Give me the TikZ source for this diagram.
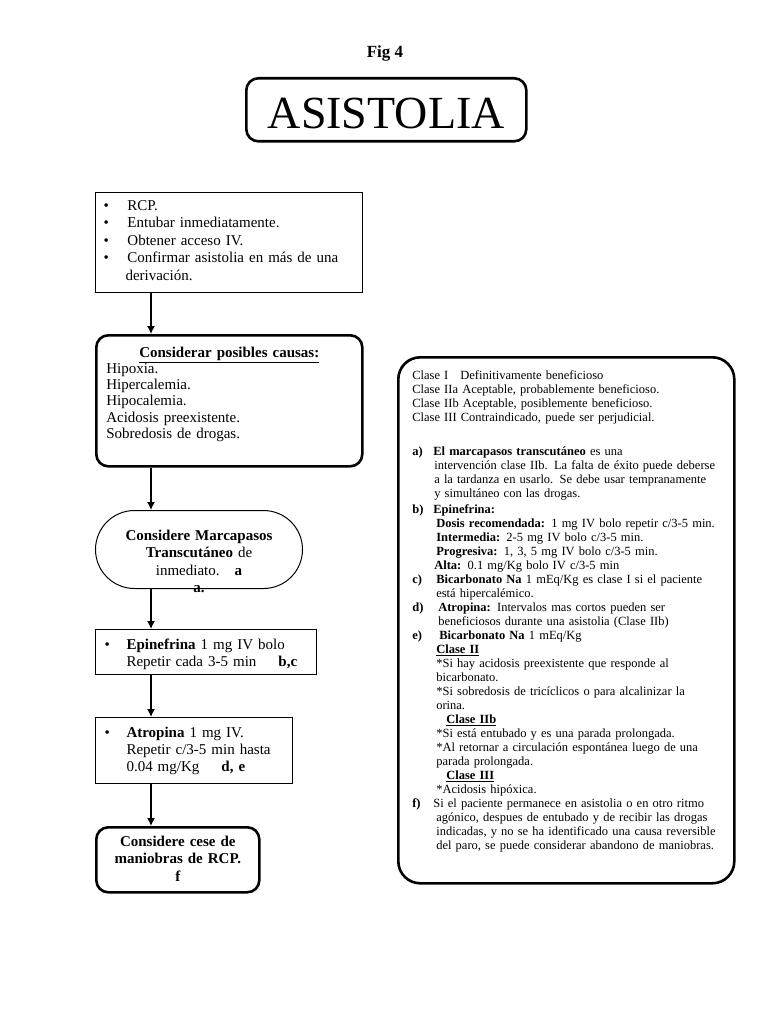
\documentclass[tikz,border=0pt]{standalone}
\usepackage{fontspec}
\setmainfont{Liberation Serif}
\usetikzlibrary{arrows.meta, positioning}
\tikzset{
  thinbox/.style={rectangle, draw, line width=1pt, inner xsep=8pt, inner ysep=0pt, align=left, font=\fontsize{15}{16}\selectfont},
  thickbox/.style={rectangle, draw, line width=2.6pt, rounded corners=12pt, inner xsep=8pt, inner ysep=0pt, align=left, font=\fontsize{15}{16}\selectfont},
  pillbox/.style={rectangle, draw, line width=1pt, rounded corners=39pt, minimum width=207pt, minimum height=78pt, inner sep=0pt, align=center, font=\fontsize{15}{17.3}\selectfont},
  notebox/.style={rectangle, draw, line width=2.6pt, rounded corners=22pt, inner xsep=14pt, inner ysep=0pt, align=left, font=\fontsize{12.5}{14}\selectfont},
  arrow/.style={-{Latex[length=8pt,width=8pt]}, line width=1.2pt}
}
\newcommand\bul[1][24pt]{\makebox[#1][l]{\textbullet}}
\newcommand\notelbl[2][21pt]{\makebox[#1][l]{\textbf{#2}}}
\newcommand\indnt[1][22pt]{\hspace*{#1}}

\begin{document}
\begin{tikzpicture}[x=1pt, y=-1pt]
\useasboundingbox (0,0) rectangle (768,1024);

% Title
\node[anchor=base, font=\bfseries\fontsize{17}{19}\selectfont] (fig) at (385,58) {Fig 4};
\node[thickbox, anchor=north west, minimum width=280pt, inner xsep=0pt, align=center, text height=50pt, text depth=13pt, font=\fontsize{46}{50}\selectfont] (title) at (245,77) {ASISTOLIA};

% First steps
\node[thinbox, anchor=north west, text width=251pt, text height=18pt, text depth=82pt, font=\fontsize{15}{17.5}\selectfont] (steps) at (95,192)
  {\bul RCP.\\ \bul Entubar inmediatamente.\\ \bul Obtener acceso IV.\\ \bul Confirmar asistolia en más de una\\ \hspace*{22pt}derivación.};

% Causes
\node[thickbox, anchor=north west, inner xsep=10pt, text width=246pt, text height=22pt, text depth=109pt, font=\fontsize{15}{16.2}\selectfont] (causes) at (95,334)
  {\makebox[\linewidth]{\textbf{\underline{Considerar posibles causas:}}}\\ Hipoxia.\\ Hipercalemia.\\ Hipocalemia.\\ Acidosis preexistente.\\ Sobredosis de drogas.};

% Pacemaker
\node[pillbox, anchor=north west, text width=207pt, text height=30pt, text depth=48pt] (pace) at (95,510)
  {\textbf{Considere Marcapasos}\\ \textbf{Transcutáneo} de\\ inmediato.\quad\textbf{a}\\ \textbf{a.}};

% Epinephrine
\node[thinbox, anchor=north west, inner xsep=9pt, text width=203pt, text height=20pt, text depth=25pt, font=\fontsize{15}{16.5}\selectfont] (epi) at (95,629)
  {\bul[22pt]\textbf{Epinefrina} 1 mg IV bolo\\ \hspace*{22pt}Repetir cada 3-5 min\hspace{22pt}\textbf{b,c}};

% Atropine
\node[thinbox, anchor=north west, inner xsep=9pt, text width=179pt, text height=20pt, text depth=46pt, font=\fontsize{15}{17}\selectfont] (atro) at (95,717)
  {\bul[22pt]\textbf{Atropina} 1 mg IV.\\ \hspace*{22pt}Repetir c/3-5 min hasta\\ \hspace*{22pt}0.04 mg/Kg\hspace{22pt}\textbf{d, e}};

% Stop
\node[thickbox, anchor=north west, align=center, text width=147pt, text height=19pt, text depth=46pt, font=\bfseries\fontsize{15}{17.5}\selectfont] (stop) at (95,826)
  {Considere cese de\\ maniobras de RCP.\\ f};

% Notes
\node[notebox, anchor=north west, text width=308pt, text height=22pt, text depth=504pt] (notes) at (397,356)
  {Clase I\hspace{12pt}Definitivamente beneficioso\\
   Clase IIa Aceptable, probablemente beneficioso.\\
   Clase IIb Aceptable, posiblemente beneficioso.\\
   Clase III Contraindicado, puede ser perjudicial.\\[20pt]
   \notelbl{a)}\textbf{El marcapasos transcutáneo} es una\\
   \indnt intervención clase IIb. La falta de éxito puede deberse\\
   \indnt a la tardanza en usarlo. Se debe usar tempranamente\\
   \indnt y simultáneo con las drogas.\\[2pt]
   \notelbl{b)}\textbf{Epinefrina:}\\
   \indnt[24pt]\textbf{Dosis recomendada:} 1 mg IV bolo repetir c/3-5 min.\\
   \indnt[24pt]\textbf{Intermedia:} 2-5 mg IV bolo c/3-5 min.\\
   \indnt[24pt]\textbf{Progresiva:} 1, 3, 5 mg IV bolo c/3-5 min.\\
   \indnt[22pt]\textbf{Alta:} 0.1 mg/Kg bolo IV c/3-5 min\\
   \notelbl[24pt]{c)}\textbf{Bicarbonato Na} 1 mEq/Kg es clase I si el paciente\\
   \indnt[24pt]está hipercalémico.\\
   \notelbl[26pt]{d)}\textbf{Atropina:} Intervalos mas cortos pueden ser\\
   \indnt[26pt]beneficiosos durante una asistolia (Clase IIb)\\
   \notelbl[27pt]{e)}\textbf{Bicarbonato Na} 1 mEq/Kg\\
   \indnt[24pt]\textbf{\underline{Clase II}}\\
   \indnt[24pt]*Si hay acidosis preexistente que responde al\\
   \indnt[24pt]bicarbonato.\\
   \indnt[24pt]*Si sobredosis de tricíclicos o para alcalinizar la\\
   \indnt[24pt]orina.\\
   \indnt[34pt]\textbf{\underline{Clase IIb}}\\
   \indnt[24pt]*Si está entubado y es una parada prolongada.\\
   \indnt[24pt]*Al retornar a circulación espontánea luego de una\\
   \indnt[24pt]parada prolongada.\\
   \indnt[34pt]\textbf{\underline{Clase III}}\\
   \indnt[24pt]*Acidosis hipóxica.\\
   \notelbl{f)}Si el paciente permanece en asistolia o en otro ritmo\\
   \indnt[24pt]agónico, despues de entubado y de recibir las drogas\\
   \indnt[24pt]indicadas, y no se ha identificado una causa reversible\\
   \indnt[24pt]del paro, se puede considerar abandono de maniobras.};

% Connections
\coordinate (spine) at (151,0);
\draw[arrow] (steps.south -| spine) -- (causes.north -| spine);
\draw[arrow] (causes.south -| spine) -- (pace.north -| spine);
\draw[arrow] (pace.south -| spine) -- (epi.north -| spine);
\draw[arrow] (epi.south -| spine) -- (atro.north -| spine);
\draw[arrow] (atro.south -| spine) -- (stop.north -| spine);

\end{tikzpicture}
\end{document}
